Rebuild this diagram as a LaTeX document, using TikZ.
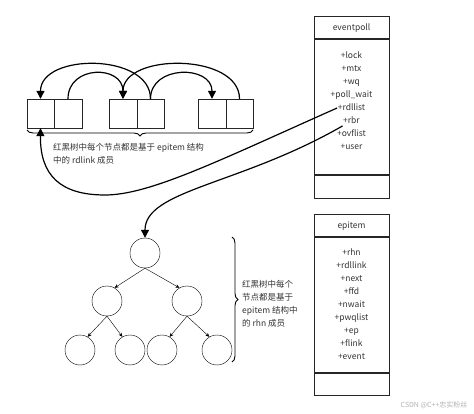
\documentclass[tikz,border=0pt]{standalone}
\usepackage{fontspec}
\setmainfont{Noto Sans CJK SC}
\usetikzlibrary{arrows.meta,decorations.pathreplacing}

\begin{document}
\begin{tikzpicture}[x=1pt,y=-1pt,
  cell/.style={draw, black!85, minimum width=27.5pt, minimum height=29pt, inner sep=0pt},
  rb/.style={draw, circle, minimum size=30pt, inner sep=0pt},
  field/.style={font=\fontsize{8.5}{10}\selectfont, text=black!80, inner sep=0.5pt,
    text height=6.5pt, text depth=2pt},
  ptr/.style={line width=1.2pt, -{Triangle[length=8pt,width=8pt]}},
  child/.style={-{Stealth[length=4pt,width=3.5pt]}},
  note/.style={font=\fontsize{8.5}{13}\selectfont, align=left, text=black!80, inner sep=0pt}
]
\useasboundingbox (0,0) rectangle (474,414);

% rdllist: three list nodes, prev / next halves
\node[cell] (a1) at (40.5,113.5) {};
\node[cell] (b1) at (68,113.5) {};
\node[cell] (a2) at (123,113.5) {};
\node[cell] (b2) at (150.5,113.5) {};
\node[cell] (a3) at (212,113.5) {};
\node[cell] (b3) at (239.5,113.5) {};

\draw[ptr] (b1.north) .. controls +(0,-34) and +(0,-34) .. (a2.north);
\draw[ptr] (b2.north) .. controls +(0,-34) and +(0,-34) .. (a3.north);
\draw[ptr] (b2.north) .. controls +(0,-46) and +(0,-46) .. (a1.north);
\draw[ptr] (b3.north) .. controls +(0,-46) and +(0,-46) .. (a2.north);

\draw[line width=0.9pt, decorate, decoration={brace, mirror, amplitude=6pt}] (27,130) -- (253,130);
\node[note, anchor=north west] (listnote) at (53,143)
  {红黑树中每个节点都是基于 epitem 结构\\中的 rdlink 成员};

% eventpoll
\draw[black!85] (314,16) rectangle (389,198);
\draw[black!85, line width=1.2pt] (314,39) -- (389,39);
\draw[black!85, line width=1.2pt] (314,175) -- (389,175);
\node[field] (ephead) at (351.5,28) {eventpoll};
\foreach \f/\n [count=\i] in {lock/lock,mtx/mtx,wq/wq,poll\_wait/pollwait,rdllist/rdllist,rbr/rbr,ovflist/ovflist,user/user}
  \node[field] (ep-\n) at (351.5,43+13*\i) {+\f};

% epitem
\draw[black!85] (314,214) rectangle (389,395);
\draw[black!85, line width=1.2pt] (314,237) -- (389,237);
\draw[black!85, line width=1.2pt] (314,373) -- (389,373);
\node[field] (eihead) at (351.5,226) {epitem};
\foreach \f [count=\i] in {rhn,rdllink,next,ffd,nwait,pwqlist,ep,flink,event}
  \node[field] (ei-\f) at (351.5,240+13*\i) {+\f};

% rbtree
\node[rb] (root) at (145,253) {};
\node[rb] (l) at (107,301) {};
\node[rb] (r) at (187,301) {};
\node[rb] (ll) at (80,350) {};
\node[rb] (lr) at (130,350) {};
\node[rb] (rl) at (162,350) {};
\node[rb] (rr) at (217,350) {};

\draw[child] (root.south) -- (l.60);
\draw[child] (root.south) -- (r.120);
\draw[child] (l.south) -- (ll.60);
\draw[child] (l.south) -- (lr.120);
\draw[child] (r.south) -- (rl.60);
\draw[child] (r.south) -- (rr.120);

\draw[line width=0.9pt, decorate, decoration={brace, amplitude=6pt}] (232,237) -- (232,362);
\node[note, anchor=west] (treenote) at (242,304)
  {红黑树中每个\\节点都是基于\\epitem 结构中\\的 rhn 成员};

% links from eventpoll
\draw[ptr] (ep-rdllist.west) .. controls (220,160) and (150,195) .. (105,195)
  .. controls (60,195) and (40,175) .. (a1.south);
\draw[ptr] (ep-rbr.south west) .. controls (240,185) and (145,190) .. (root.north);

\node[font=\fontsize{7}{8}\selectfont, text=black!30, anchor=east] (mark) at (471,405) {CSDN @C++忠实粉丝};
\end{tikzpicture}
\end{document}
